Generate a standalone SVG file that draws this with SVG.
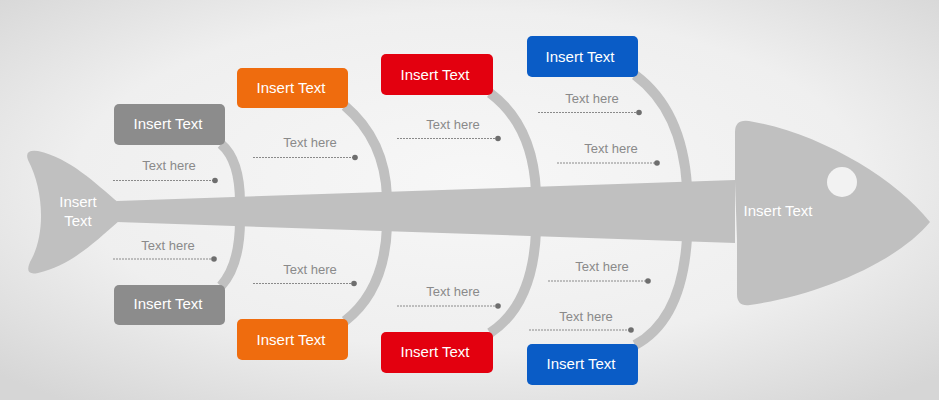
<svg xmlns="http://www.w3.org/2000/svg" width="939" height="400" viewBox="0 0 939 400">
<defs>
<radialGradient id="bg" cx="50%" cy="45%" r="70%">
<stop offset="0" stop-color="#f7f7f7"/>
<stop offset="0.6" stop-color="#efefef"/>
<stop offset="1" stop-color="#d6d6d6"/>
</radialGradient>
<style>
.fish{fill:#c0c0c0}
.rib{fill:none;stroke:#c0c0c0;stroke-width:10;stroke-linecap:butt}
.box text,.wt{font-family:"Liberation Sans",Arial,sans-serif;font-size:15px;fill:#fff;text-anchor:middle}
.lbl{font-family:"Liberation Sans",Arial,sans-serif;font-size:13px;fill:#8a8a8a;text-anchor:middle}
.ln{stroke:#8a8a8a;stroke-width:1;stroke-dasharray:2 1}
.dot{fill:#6e6e6e}
.gray rect{fill:#8c8c8c}
.orange rect{fill:#ef6c0e}
.red rect{fill:#e3000f}
.blue rect{fill:#0a5cc6}
</style>
</defs>
<rect width="939" height="400" fill="url(#bg)"/>
<g id="fish">
<path class="fish" d="M117,201 L735,180 L735,243 L117,222 Z"/>
<path class="fish" d="M735,182 L735,132 Q735,119 749,121 C820,133 895,178 930,222 C897,262 820,295 750,305 Q737,307 737,294 L737,240 Z"/>
<circle cx="842" cy="182" r="15" fill="#f2f2f2"/>
<path class="fish" d="M119,203 C95,183 70,158 38,151 Q24,149 28,160 C44,190 46,235 30,262 Q24,276 38,273 C70,266 95,242 119,221 Z"/>
<text class="wt" x="778" y="216">Insert Text</text>
<text class="wt" x="78" y="207">Insert</text>
<text class="wt" x="78" y="226">Text</text>
</g>
<g id="connectors">
<path class="rib" d="M221,144 Q240,160 240,203"/>
<path class="rib" d="M345,106 Q385,140 387,197"/>
<path class="rib" d="M490,93 Q533,125 536,192"/>
<path class="rib" d="M635,75 Q682,110 687,186"/>
<path class="rib" d="M240,220 Q240,265 221,286"/>
<path class="rib" d="M387,226 Q385,290 345,321"/>
<path class="rib" d="M536,231 Q533,305 490,333"/>
<path class="rib" d="M687,238 Q682,320 635,345"/>
</g>
<g id="labels">
<g><text class="lbl" x="169" y="170">Text here</text><line class="ln" x1="113" y1="180.5" x2="215" y2="180.5"/><circle class="dot" cx="215" cy="180.5" r="2.8"/></g>
<g><text class="lbl" x="310" y="147">Text here</text><line class="ln" x1="253" y1="157.5" x2="355" y2="157.5"/><circle class="dot" cx="355" cy="157.5" r="2.8"/></g>
<g><text class="lbl" x="453" y="129">Text here</text><line class="ln" x1="397" y1="138.5" x2="498" y2="138.5"/><circle class="dot" cx="498" cy="138.5" r="2.8"/></g>
<g><text class="lbl" x="592" y="103">Text here</text><line class="ln" x1="538" y1="112.5" x2="639" y2="112.5"/><circle class="dot" cx="639" cy="112.5" r="2.8"/></g>
<g><text class="lbl" x="611" y="153">Text here</text><line class="ln" x1="557" y1="163" x2="657" y2="163"/><circle class="dot" cx="657" cy="163" r="2.8"/></g>
<g><text class="lbl" x="168" y="250">Text here</text><line class="ln" x1="113" y1="259" x2="214" y2="259"/><circle class="dot" cx="214" cy="259" r="2.8"/></g>
<g><text class="lbl" x="310" y="274">Text here</text><line class="ln" x1="253" y1="283.5" x2="354" y2="283.5"/><circle class="dot" cx="354" cy="283.5" r="2.8"/></g>
<g><text class="lbl" x="453" y="296">Text here</text><line class="ln" x1="397" y1="306" x2="498" y2="306"/><circle class="dot" cx="498" cy="306" r="2.8"/></g>
<g><text class="lbl" x="602" y="271">Text here</text><line class="ln" x1="548" y1="281" x2="648" y2="281"/><circle class="dot" cx="648" cy="281" r="2.8"/></g>
<g><text class="lbl" x="586" y="321">Text here</text><line class="ln" x1="529" y1="330" x2="631" y2="330"/><circle class="dot" cx="631" cy="330" r="2.8"/></g>
</g>
<g id="box-top-gray" class="box gray"><rect x="114" y="104" width="111" height="41" rx="5"/><text x="168" y="129">Insert Text</text></g>
<g id="box-top-orange" class="box orange"><rect x="237" y="68" width="111" height="40" rx="5"/><text x="291" y="93">Insert Text</text></g>
<g id="box-top-red" class="box red"><rect x="381" y="54" width="112" height="41" rx="5"/><text x="435" y="80">Insert Text</text></g>
<g id="box-top-blue" class="box blue"><rect x="527" y="36" width="111" height="41" rx="5"/><text x="580" y="62">Insert Text</text></g>
<g id="box-bottom-gray" class="box gray"><rect x="114" y="285" width="111" height="40" rx="5"/><text x="168" y="309">Insert Text</text></g>
<g id="box-bottom-orange" class="box orange"><rect x="237" y="319" width="111" height="41" rx="5"/><text x="291" y="345">Insert Text</text></g>
<g id="box-bottom-red" class="box red"><rect x="381" y="332" width="112" height="41" rx="5"/><text x="435" y="357">Insert Text</text></g>
<g id="box-bottom-blue" class="box blue"><rect x="527" y="344" width="111" height="41" rx="5"/><text x="581" y="369">Insert Text</text></g>
</svg>
